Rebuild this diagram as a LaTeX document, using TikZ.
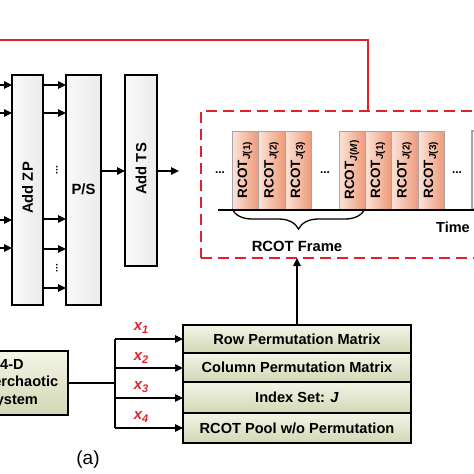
\documentclass[tikz,border=0pt]{standalone}
\usepackage{fontspec}
\setmainfont{Liberation Sans}
\usetikzlibrary{arrows.meta,decorations.pathreplacing,calc}
\definecolor{myred}{HTML}{E0222A}
\definecolor{cellL}{HTML}{FCE4D8}
\definecolor{cellR}{HTML}{EE9A7A}
\definecolor{grnT}{HTML}{F4F5E8}
\definecolor{grnB}{HTML}{D2D7B4}
\tikzset{
  graybox/.style={draw=black, line width=1.8pt, left color=gray!4, right color=gray!16, outer sep=0pt, inner sep=0pt, anchor=north west},
  cellbox/.style={draw=gray!70, line width=0.8pt, left color=cellL, right color=cellR, outer sep=0pt, inner sep=0pt, anchor=north west, minimum height=78pt},
  grnbox/.style={draw=black, line width=1.8pt, top color=grnT, bottom color=grnB, outer sep=0pt, inner sep=0pt, minimum width=228pt, font=\fontsize{14.6}{17.5}\selectfont\bfseries},
  arr/.style={line width=1.4pt, -{Triangle[length=8pt,width=7.5pt]}},
  plain/.style={line width=1.4pt},
  redline/.style={draw=myred, line width=2pt},
  reddash/.style={draw=myred, line width=2pt, dash pattern=on 11pt off 6pt},
  lbl/.style={font=\fontsize{14.8}{17}\selectfont\bfseries, inner sep=0pt},
  cellt/.style={font=\fontsize{13.5}{15}\selectfont\bfseries, rotate=90, inner sep=0pt},
  vdots/.style={font=\fontsize{10}{12}\selectfont\bfseries, rotate=90, inner sep=0pt},
  hdots/.style={font=\fontsize{12}{14}\selectfont\bfseries, inner sep=0pt},
  xl/.style={font=\fontsize{15}{16}\selectfont\bfseries\itshape, text=myred, inner sep=0pt}
}
\newcommand{\rcot}[1]{RCOT\raisebox{-3pt}{\fontsize{10}{11}\selectfont\textit{J}(#1)}}
\newcommand{\xsub}[1]{x\raisebox{-3pt}{\fontsize{11}{12}\selectfont #1}}
\begin{document}
\begin{tikzpicture}[x=1pt,y=-1pt]
\useasboundingbox (0,0) rectangle (474,474);
\clip (0,0) rectangle (474,474);

% left processing blocks
\node[graybox, minimum width=31pt, minimum height=230pt] (zp) at (12,75) {};
\node[lbl, rotate=90] (zpt) at (27.5,188) {Add ZP};
\node[graybox, minimum width=35pt, minimum height=230pt] (ps) at (66,75) {};
\node[lbl] (pst) at (83.5,189) {P/S};
\node[graybox, minimum width=32pt, minimum height=191pt] (ts) at (125,75) {};
\node[lbl, rotate=90] (tst) at (141,169) {Add TS};

% inputs into Add ZP
\foreach \y/\n in {85/a,113/b,220/c,248/d} {
  \coordinate (in\n) at (0,\y);
  \draw[arr] (in\n) -- (zp.west |- in\n);
}
% Add ZP -> P/S
\foreach \y/\n in {85/a,113/b,219/c,249/d,288/e} {
  \coordinate (m\n) at (43,\y);
  \draw[arr] (m\n) -- (ps.west |- m\n);
}
\node[vdots] (d1) at (57,170) {...};
\node[vdots] (d2) at (57,268) {...};
% P/S -> Add TS
\coordinate (pso) at (101,171);
\draw[arr] (pso) -- (ts.west |- pso);
\coordinate (tso) at (157,171);
\coordinate (tsend) at (179,171);
\draw[arr] (tso) -- (tsend);

% red dashed frame
\node[reddash, anchor=north west, minimum width=300pt, minimum height=147pt, outer sep=0pt, inner sep=0pt] (frame) at (201,111) {};
\coordinate (rs) at (0,40);
\coordinate (rc) at (368,40);
\draw[redline] (rs) -- (rc) -- (rc |- frame.north);

% cells
\node[hdots] (h1) at (220,173) {...};
\node[cellbox, minimum width=26pt] (c1) at (232,131) {};
\node[cellbox, minimum width=27pt] (c2) at (258,131) {};
\node[cellbox, minimum width=26pt] (c3) at (285,131) {};
\node[hdots] (h2) at (325,173) {...};
\node[cellbox, minimum width=26pt] (cM) at (339,131) {};
\node[cellbox, minimum width=26pt] (c4) at (365,131) {};
\node[cellbox, minimum width=27pt] (c5) at (391,131) {};
\node[cellbox, minimum width=26pt] (c6) at (418,131) {};
\node[hdots] (h3) at (457,173) {...};
\node[draw=gray!70, line width=1.2pt, fill=gray!5, anchor=north west, minimum width=30pt, minimum height=78pt, outer sep=0pt] (c7) at (472,131) {};
\node[cellt] at (c1.center) {\rcot{1}};
\node[cellt] at (c2.center) {\rcot{2}};
\node[cellt] at (c3.center) {\rcot{3}};
\node[cellt] at (cM.center) {\rcot{\textit{M}}};
\node[cellt] at (c4.center) {\rcot{1}};
\node[cellt] at (c5.center) {\rcot{2}};
\node[cellt] at (c6.center) {\rcot{3}};
% time axis
\coordinate (ta) at (218,210);
\coordinate (tb) at (480,210);
\draw[plain] (ta) -- (tb);
\node[lbl, font=\fontsize{14.5}{16}\selectfont\bfseries] (time) at (453,227) {Time};
\draw[line width=1.3pt, decorate, decoration={brace, mirror, amplitude=20pt}] (c1.south west) -- (cM.south east);
\node[lbl] (frt) at (297,246) {RCOT Frame};

% bottom stack
\node[grnbox, minimum height=28pt] (row) at (297,339) {Row Permutation Matrix};
\node[grnbox, minimum height=29pt] (col) at (297,367.5) {Column Permutation Matrix};
\node[grnbox, minimum height=31pt] (idx) at (297,397.5) {Index Set: \textit{J}};
\node[grnbox, minimum height=30pt] (pool) at (297,428) {RCOT Pool w/o Permutation};
\draw[arr] (row.north) -- (row.north |- frame.south);

% chaotic system
\node[grnbox, minimum width=112pt, minimum height=64pt, align=center] (chaos) at (12,383) {4-D\\Hyperchaotic\\System};
\coordinate (bus) at (115,383);
\draw[plain] (chaos.east) -- (bus);
\coordinate (b1) at (115,339);
\coordinate (b4) at (115,428);
\draw[plain] (b1) -- (b4);
\draw[arr] (b1) -- (row.west |- b1);
\draw[arr] (115,368) coordinate (b2) -- (col.west |- b2);
\draw[arr] (115,398) coordinate (b3) -- (idx.west |- b3);
\draw[arr] (b4) -- (pool.west |- b4);
\node[xl] (x1) at (141,328) {\xsub{1}};
\node[xl] (x2) at (141,358) {\xsub{2}};
\node[xl] (x3) at (141,387) {\xsub{3}};
\node[xl] (x4) at (141,417) {\xsub{4}};

\node[font=\fontsize{19}{22}\selectfont, inner sep=0pt] (cap) at (88,460) {(a)};
\end{tikzpicture}
\end{document}
